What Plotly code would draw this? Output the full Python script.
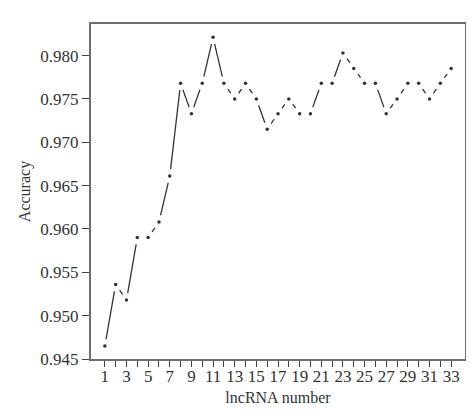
import plotly.graph_objects as go

lncrna_number = list(range(1, 34))
accuracy = [0.9465, 0.9536, 0.9518, 0.9590, 0.9590, 0.9608, 0.9661,
            0.9768, 0.9733, 0.9768, 0.9821, 0.9768, 0.9750, 0.9768,
            0.9750, 0.9715, 0.9733, 0.9750, 0.9733, 0.9733, 0.9768,
            0.9768, 0.9803, 0.9785, 0.9768, 0.9768, 0.9733, 0.9750,
            0.9768, 0.9768, 0.9750, 0.9768, 0.9785]
y_ticks = [0.945, 0.950, 0.955, 0.960, 0.965, 0.970, 0.975, 0.980]
x_tick_labels = [str(n) if n % 2 == 1 else "" for n in lncrna_number]

FONT = "Liberation Serif, Times New Roman, serif"
AX = "#6e6e6e"

fig = go.Figure()
fig.add_trace(go.Scatter(x=lncrna_number, y=accuracy, mode="lines",
                         line=dict(color="#333333", width=1.3),
                         hoverinfo="skip", showlegend=False))
fig.add_trace(go.Scatter(x=lncrna_number, y=accuracy, mode="markers",
                         marker=dict(color="white", size=14, line=dict(width=0)),
                         hoverinfo="skip", showlegend=False))
fig.add_trace(go.Scatter(x=lncrna_number, y=accuracy, mode="markers",
                         marker=dict(color="#333333", size=3.5, line=dict(width=0)),
                         showlegend=False))

fig.update_layout(
    width=474, height=417,
    margin=dict(l=83, r=17, t=16, b=66),
    plot_bgcolor="white", paper_bgcolor="white",
    font=dict(family=FONT, size=17, color="#333333"),
)
fig.update_xaxes(
    range=[-0.28, 34.28], tickmode="array", tickvals=lncrna_number,
    ticktext=x_tick_labels, ticks="outside", ticklen=6, tickwidth=1.2,
    tickcolor="#444444", showline=True, linecolor=AX, linewidth=2,
    mirror=True, showgrid=False, zeroline=False, ticklabelstandoff=-5,
    title=dict(text="lncRNA number", standoff=6, font=dict(size=16)),
    tickfont=dict(size=17),
)
fig.update_yaxes(
    range=[0.945, 0.98364], tickmode="array", tickvals=y_ticks,
    ticktext=[f"{v:.3f}" for v in y_ticks], ticks="outside", ticklen=7,
    tickwidth=1.2, tickcolor="#444444", showline=True, linecolor=AX,
    linewidth=2, mirror=True, showgrid=False, zeroline=False,
    title=dict(text="Accuracy", standoff=6, font=dict(size=16)),
    tickfont=dict(size=17),
)

fig.write_html("out.html")
